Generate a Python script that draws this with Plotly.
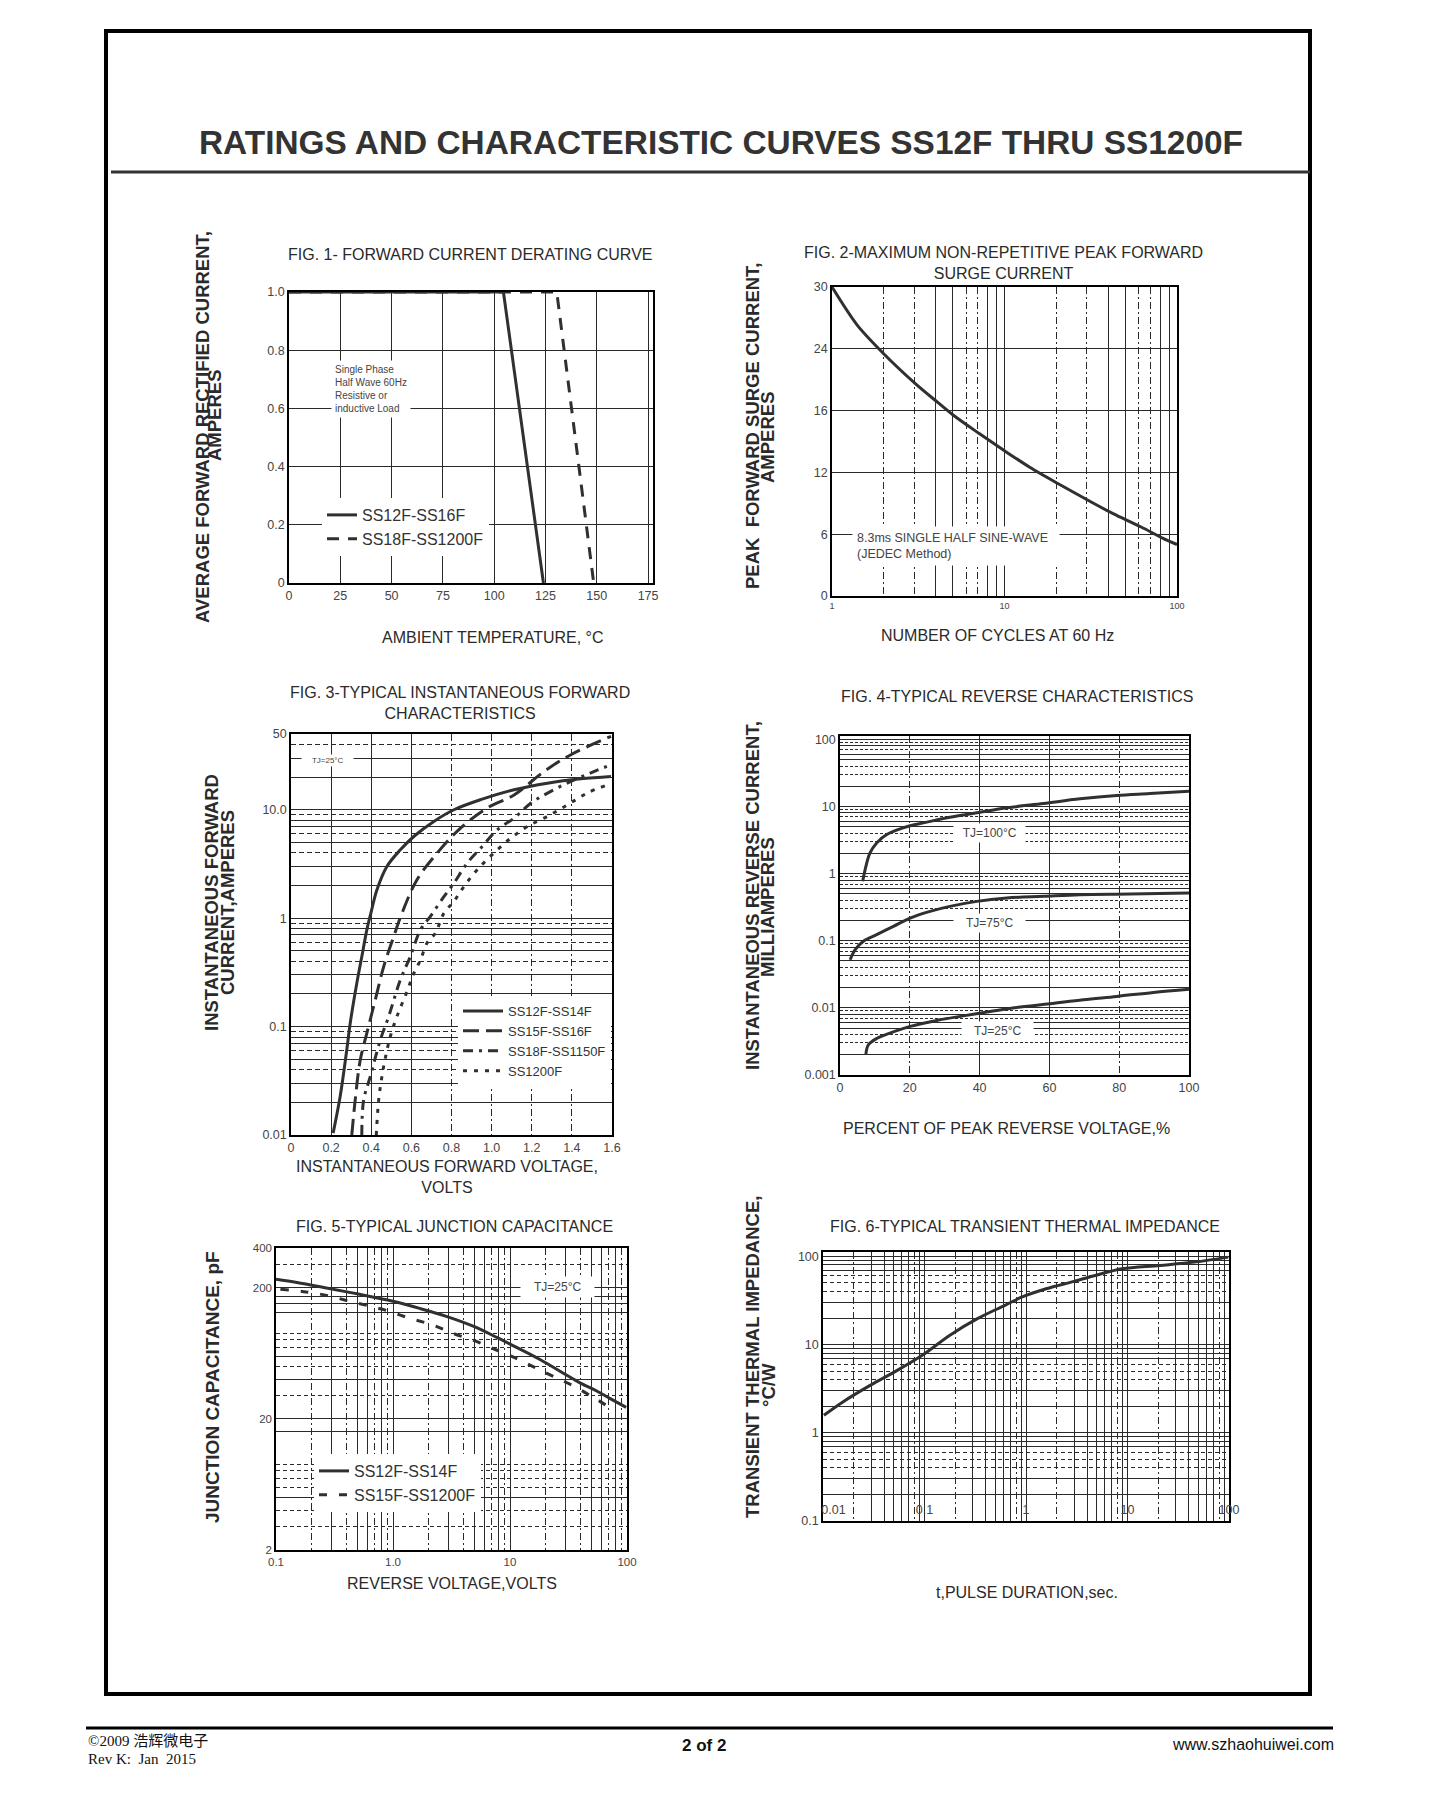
import plotly.graph_objects as go

W, H = 1448, 1809

# ---------------- DATA ----------------
# Fig 1 - forward current derating
f1_temp_a = [0, 104.5, 124]
f1_amp_a = [1.0, 1.0, 0.0]
f1_temp_b = [0, 130.5, 148.5]
f1_amp_b = [1.0, 1.0, 0.0]
f1_xticks = [0, 25, 50, 75, 100, 125, 150, 175]
f1_yticks = [0, 0.2, 0.4, 0.6, 0.8, 1.0]
f1_ytext = ["0", "0.2", "0.4", "0.6", "0.8", "1.0"]

# Fig 2 - surge current
f2_cycles = [1, 1.4, 2.0, 3.1, 4.1, 5.1, 7.1, 10, 14, 20.5, 32, 42.6, 62, 83, 100]
f2_amps = [30.0, 26.3, 23.5, 20.5, 18.8, 17.5, 15.8, 14.1, 12.5, 10.9, 9.1, 8.0, 6.7, 5.6, 5.0]
f2_yticks = [0, 6, 12, 18, 24, 30]
f2_ytext = ["0", "6", "12", "16", "24", "30"]

# Fig 3 - forward characteristics
f3_v1 = [0.21, 0.245, 0.278, 0.295, 0.328, 0.353, 0.378, 0.398, 0.428, 0.478, 0.545, 0.612, 0.712, 0.812, 0.945, 1.112, 1.278, 1.445, 1.595]
f3_i1 = [0.0104, 0.0226, 0.061, 0.107, 0.251, 0.443, 0.78, 1.11, 1.82, 3.0, 4.27, 5.67, 7.8, 10, 12.4, 15.3, 17.6, 19.3, 20.3]
f3_v2 = [0.303, 0.32, 0.345, 0.378, 0.42, 0.462, 0.512, 0.553, 0.628, 0.728, 0.845, 0.978, 1.112, 1.262, 1.395, 1.595]
f3_i2 = [0.01, 0.021, 0.049, 0.087, 0.176, 0.358, 0.676, 1.11, 2.26, 3.98, 6.77, 10.4, 13.7, 22.6, 32.2, 47.5]
f3_v3 = [0.353, 0.362, 0.395, 0.445, 0.487, 0.545, 0.595, 0.645, 0.695, 0.762, 0.812, 0.878, 0.953, 1.028, 1.112, 1.195, 1.295, 1.412, 1.512, 1.595]
f3_i3 = [0.01, 0.021, 0.0345, 0.075, 0.124, 0.27, 0.443, 0.78, 1.04, 1.58, 2.1, 3.22, 4.59, 6.54, 8.37, 11.5, 14.8, 18.9, 22.6, 26]
f3_v4 = [0.425, 0.437, 0.453, 0.47, 0.495, 0.528, 0.578, 0.612, 0.645, 0.678, 0.72, 0.762, 0.812, 0.862, 0.928, 1.012, 1.095, 1.178, 1.278, 1.378, 1.478, 1.578]
f3_i4 = [0.01, 0.021, 0.0345, 0.051, 0.081, 0.124, 0.21, 0.31, 0.41, 0.59, 0.73, 1.11, 1.43, 1.96, 2.8, 4.0, 5.47, 7.0, 8.7, 11.1, 14.3, 17.0]
f3_names = ["SS12F-SS14F", "SS15F-SS16F", "SS18F-SS1150F", "SS1200F"]
f3_xticks = [0, 0.2, 0.4, 0.6, 0.8, 1.0, 1.2, 1.4, 1.6]
f3_xtext = ["0", "0.2", "0.4", "0.6", "0.8", "1.0", "1.2", "1.4", "1.6"]
f3_yticks = [0.01, 0.1, 1, 10, 50]
f3_ytext = ["0.01", "0.1", "1", "10.0", "50"]

# Fig 4 - reverse characteristics
f4_p100 = [6.5, 7.2, 8.6, 10.5, 13.4, 18.1, 23.9, 31.5, 39.2, 47.8, 58.3, 68.8, 79.3, 88.8, 100]
f4_i100 = [0.77, 1.15, 2.03, 2.87, 3.82, 4.81, 5.7, 6.93, 8.04, 9.55, 11.1, 13.0, 14.6, 15.6, 16.9]
f4_p75 = [2.9, 4.3, 6.7, 10.5, 15.3, 20.1, 25.8, 31.5, 39.2, 47.8, 58.3, 68.8, 83.1, 100]
f4_i75 = [0.052, 0.073, 0.098, 0.123, 0.164, 0.218, 0.274, 0.325, 0.386, 0.433, 0.459, 0.486, 0.497, 0.514]
f4_p25 = [7.4, 8.1, 10.5, 14.3, 20.1, 27.7, 35.3, 43.0, 50.6, 60.2, 69.7, 79.3, 89.8, 100]
f4_i25 = [0.0020, 0.0028, 0.0035, 0.0042, 0.0053, 0.0065, 0.0076, 0.0088, 0.0101, 0.0115, 0.0132, 0.0148, 0.017, 0.019]
f4_xticks = [0, 20, 40, 60, 80, 100]
f4_yticks = [0.001, 0.01, 0.1, 1, 10, 100]
f4_ytext = ["0.001", "0.01", "0.1", "1", "10", "100"]

# Fig 5 - junction capacitance
f5_v1 = [0.1, 0.151, 0.256, 0.493, 1.0, 1.72, 2.9, 4.9, 7.8, 10.7, 18.2, 28.8, 40, 55.6, 71.9, 98.4]
f5_c1 = [231, 218, 200, 179, 157, 138, 120, 101, 82.9, 71.9, 56.3, 44.3, 37.4, 32.4, 28.5, 24.4]
f5_v2 = [0.109, 0.172, 0.264, 0.404, 0.6, 0.92, 1.41, 2.16, 3.2, 4.9, 7.3, 10.7, 15.9, 23.7, 35.3, 52.3, 74.5]
f5_c2 = [194, 186, 175, 159, 146, 132, 116, 104, 90, 79, 68, 59, 49.7, 41.9, 35.3, 28.9, 23.7]
f5_xticks = [0.1, 1, 10, 100]
f5_xtext = ["0.1", "1.0", "10", "100"]
f5_yticks = [2, 20, 200, 400]

# Fig 6 - transient thermal impedance
f6_t = [0.0102, 0.0157, 0.0294, 0.0508, 0.095, 0.178, 0.332, 0.62, 0.918, 1.58, 2.97, 5.54, 8.86, 20.9, 45.7, 98.4]
f6_z = [1.58, 2.24, 3.47, 4.91, 7.57, 12.8, 19.7, 27.9, 34.7, 43, 52.1, 63.6, 72.5, 79, 86.2, 98.2]
f6_xticks = [0.01, 0.1, 1, 10, 100]
f6_xtext = ["&nbsp;&nbsp;&nbsp;&nbsp;&nbsp;&nbsp;0.01", "0.1", "1", "10", "100"]
f6_yticks = [0.1, 1, 10, 100]
f6_ytext = ["0.1", "1", "10", "100"]

# ---------------- HELPERS ----------------
FONT = "Liberation Sans, Arial, sans-serif"
INK = "#2a2a2a"


def PX(x):
    return x / W


def PY(y):
    return 1 - y / H


def log_grid(lo_exp, hi_exp, mults=(2, 3, 4, 5, 6, 7, 8, 9)):
    vals = []
    for e in range(lo_exp, hi_exp):
        for m in mults:
            vals.append(m * 10 ** e)
    return vals


def axis(dom, **kw):
    d = dict(domain=dom, showline=True, mirror=True, linecolor="black", linewidth=1.5,
             ticks="", showgrid=True, gridcolor=INK, gridwidth=1, zeroline=False, automargin=False,
             tickfont=dict(family=FONT, size=12.5, color="#444"), fixedrange=True)
    d.update(kw)
    return d


def xd(a, b):
    return [PX(a), PX(b)]


def yd(top, bot):
    return [PY(bot), PY(top)]


fig = go.Figure()

LW = 3
LC = "#303030"

# Fig 1
fig.add_trace(go.Scatter(x=f1_temp_a, y=f1_amp_a, mode="lines", name="SS12F-SS16F",
                         line=dict(color=LC, width=LW), xaxis="x", yaxis="y", legend="legend"))
fig.add_trace(go.Scatter(x=f1_temp_b, y=f1_amp_b, mode="lines", name="SS18F-SS1200F",
                         line=dict(color=LC, width=LW, dash="12px,9px"), xaxis="x", yaxis="y", legend="legend"))
# Fig 2
fig.add_trace(go.Scatter(x=f2_cycles, y=f2_amps, mode="lines", line=dict(color=LC, width=LW, shape="spline", smoothing=0.8),
                         showlegend=False, xaxis="x2", yaxis="y2"))
# Fig 3
f3_dash = ["solid", "16px,7px", "10px,6px,3px,6px", "4px,7px"]
for v, i, n, dsh in zip([f3_v1, f3_v2, f3_v3, f3_v4], [f3_i1, f3_i2, f3_i3, f3_i4], f3_names, f3_dash):
    fig.add_trace(go.Scatter(x=v, y=i, mode="lines", name=n, line=dict(color=LC, width=LW, dash=dsh, shape="spline"),
                             xaxis="x3", yaxis="y3", legend="legend2"))
# Fig 4
for p, i in [(f4_p100, f4_i100), (f4_p75, f4_i75), (f4_p25, f4_i25)]:
    fig.add_trace(go.Scatter(x=p, y=i, mode="lines", line=dict(color=LC, width=LW, shape="spline"),
                             showlegend=False, xaxis="x4", yaxis="y4"))
# Fig 5
fig.add_trace(go.Scatter(x=f5_v1, y=f5_c1, mode="lines", name="SS12F-SS14F",
                         line=dict(color=LC, width=LW, shape="spline"), xaxis="x5", yaxis="y5", legend="legend3"))
fig.add_trace(go.Scatter(x=f5_v2, y=f5_c2, mode="lines", name="SS15F-SS1200F",
                         line=dict(color=LC, width=LW, dash="8px,12px", shape="spline"), xaxis="x5", yaxis="y5", legend="legend3"))
# Fig 6
fig.add_trace(go.Scatter(x=f6_t, y=f6_z, mode="lines", line=dict(color=LC, width=LW, shape="spline"),
                         showlegend=False, xaxis="x6", yaxis="y6"))


def minor_grid(vals, dash="5px,3px"):
    return dict(tickmode="array", tickvals=vals, showgrid=True, gridcolor=INK,
                gridwidth=1, griddash=dash, ticks="")


layout = dict(
    width=W, height=H, margin=dict(l=0, r=0, t=0, b=0, pad=0, autoexpand=False),
    paper_bgcolor="white", plot_bgcolor="white",
    font=dict(family=FONT, color=INK),
    # Fig 1
    xaxis=axis(xd(289, 653), anchor="y", range=[0, 177.4], tickmode="array", tickvals=f1_xticks),
    yaxis=axis(yd(292, 583), anchor="x", range=[0, 1.0], tickmode="array", tickvals=f1_yticks, ticktext=f1_ytext),
    # Fig 2
    xaxis2=axis(xd(832, 1177), anchor="y2", type="log", range=[0, 2], tickmode="array", tickvals=[1, 10, 100],
                tickfont=dict(family=FONT, size=9, color="#444"), minor=minor_grid(log_grid(0, 2), "7px,3px,2px,3px")),
    yaxis2=axis(yd(287, 596), anchor="x2", range=[0, 30], tickmode="array", tickvals=f2_yticks, ticktext=f2_ytext),
    # Fig 3
    xaxis3=axis(xd(291, 612), anchor="y3", range=[0, 1.6], tickmode="array", tickvals=f3_xticks, ticktext=f3_xtext,
                griddash="7px,3px,2px,3px"),
    yaxis3=axis(yd(734, 1135), anchor="x3", type="log", range=[-2, 1.69897], tickmode="array",
                tickvals=f3_yticks, ticktext=f3_ytext, minor=minor_grid(log_grid(-2, 2))),
    # Fig 4
    xaxis4=axis(xd(840, 1189), anchor="y4", range=[0, 100], tickmode="array", tickvals=f4_xticks,
                griddash="7px,3px,2px,3px"),
    yaxis4=axis(yd(736, 1075), anchor="x4", type="log", range=[-3, 2.05], tickmode="array",
                tickvals=f4_yticks, ticktext=f4_ytext, minor=minor_grid(log_grid(-3, 2), "3px,2px")),
    # Fig 5
    xaxis5=axis(xd(276, 627), anchor="y5", type="log", range=[-1, 2], tickmode="array",
                tickvals=f5_xticks, ticktext=f5_xtext, tickfont=dict(family=FONT, size=11.5, color="#444"),
                minor=minor_grid(log_grid(-1, 2), "7px,3px,2px,3px")),
    yaxis5=axis(yd(1248, 1550), anchor="x5", type="log", range=[0.30103, 2.60206], tickmode="array",
                tickvals=f5_yticks, tickfont=dict(family=FONT, size=11.5, color="#444"),
                minor=minor_grid([3, 4, 5, 6, 7, 8, 9, 30, 40, 50, 60, 70, 80, 90, 300], "4px,3px")),
    # Fig 6
    xaxis6=axis(xd(823, 1229), anchor="y6", type="log", range=[-2, 2], tickmode="array",
                tickvals=f6_xticks, ticktext=f6_xtext, ticklabelstandoff=-24,
                minor=minor_grid(log_grid(-2, 2), "7px,3px,2px,3px")),
    yaxis6=axis(yd(1252, 1521), anchor="x6", type="log", range=[-1, 2.05], tickmode="array",
                tickvals=f6_yticks, ticktext=f6_ytext, minor=minor_grid(log_grid(-1, 2), "4px,3px")),
    legend=dict(x=PX(322), y=PY(498), xanchor="left", yanchor="top", bgcolor="white", borderwidth=0,
                font=dict(family=FONT, size=16, color="#333"), itemwidth=30, tracegroupgap=0),
    legend2=dict(x=PX(458), y=PY(996), xanchor="left", yanchor="top", bgcolor="white", borderwidth=0,
                 font=dict(family=FONT, size=13, color="#333"), itemwidth=40, tracegroupgap=0),
    legend3=dict(x=PX(314), y=PY(1454), xanchor="left", yanchor="top", bgcolor="white", borderwidth=0,
                 font=dict(family=FONT, size=16, color="#333"), itemwidth=30, tracegroupgap=0),
)

# extra solid grid lines (the datasheet mixes solid and dashed rulings) via overlaid axes
ov_n = [6]


def solid_grid(base_x, base_y, which, vals, **kw):
    ov_n[0] += 1
    n = ov_n[0]
    spec = dict(tickmode="array", tickvals=vals, showgrid=True, gridcolor=INK, gridwidth=1,
                showticklabels=False, ticks="", showline=False, zeroline=False, fixedrange=True, automargin=False)
    spec.update(kw)
    if which == "x":
        spec.update(overlaying=base_x, anchor=base_y)
        layout["xaxis%d" % n] = spec
        fig.add_trace(go.Scatter(x=[], y=[], xaxis="x%d" % n, yaxis=base_y, showlegend=False, hoverinfo="skip"))
    else:
        spec.update(overlaying=base_y, anchor=base_x)
        layout["yaxis%d" % n] = spec
        fig.add_trace(go.Scatter(x=[], y=[], xaxis=base_x, yaxis="y%d" % n, showlegend=False, hoverinfo="skip"))


solid_grid("x2", "y2", "x", log_grid(0, 2, (4, 5, 8, 9)), type="log", range=[0, 2])
solid_grid("x3", "y3", "x", [0.2, 0.4, 0.6], range=[0, 1.6])
solid_grid("x3", "y3", "y", log_grid(-2, 2, (2, 3, 5, 7, 8)), type="log", range=[-2, 1.69897])
solid_grid("x4", "y4", "x", [40, 60], range=[0, 100])
solid_grid("x4", "y4", "y", log_grid(-3, 2, (2, 5, 6, 8)), type="log", range=[-3, 2.05])
solid_grid("x5", "y5", "x", log_grid(-1, 2, (3, 5, 6, 8)), type="log", range=[-1, 2])
solid_grid("x5", "y5", "y", [5, 16, 40, 60, 130, 150, 170], type="log", range=[0.30103, 2.60206])
solid_grid("x6", "y6", "x", log_grid(-2, 2, (3, 4, 5, 6, 7, 9)), type="log", range=[-2, 2])
solid_grid("x6", "y6", "y", log_grid(-1, 2, (2, 3, 7, 8, 9)), type="log", range=[-1, 2.05])

fig.update_layout(**layout)

ann = []


def text(x, y, s, size=16, bold=False, angle=0, xanchor="center", color=INK, family=FONT, bg=None, pad=1, align="center"):
    d = dict(x=PX(x), y=PY(y), xref="paper", yref="paper", text=("<b>%s</b>" % s) if bold else s,
             showarrow=False, xanchor=xanchor, yanchor="middle", textangle=angle, align=align,
             font=dict(family=family, size=size, color=color))
    if bg:
        d.update(bgcolor=bg, borderpad=pad)
    ann.append(d)


YT = 18.5  # y-axis title size

# Header
text(721, 143, "RATINGS AND CHARACTERISTIC CURVES SS12F THRU SS1200F", size=33.4, bold=True, color="#333")

# Fig 1 texts
text(470, 254, "FIG. 1- FORWARD CURRENT DERATING CURVE")
text(493, 637, "AMBIENT TEMPERATURE, °C")
text(202, 427, "AVERAGE FORWARD RECTIFIED CURRENT,", YT, bold=True, angle=-90)
text(215, 415, "AMPERES", YT, bold=True, angle=-90)
text(331, 389, "Single Phase<br>Half Wave 60Hz<br>Resistive or<br>inductive Load", 10, xanchor="left",
     bg="white", pad=3, align="left", color="#444")

# Fig 2 texts
text(1003, 263, "FIG. 2-MAXIMUM NON-REPETITIVE PEAK FORWARD<br>SURGE CURRENT")
text(997, 636, "NUMBER OF CYCLES AT 60 Hz")
text(752, 426, "PEAK  FORWARD SURGE CURRENT,", YT, bold=True, angle=-90)
text(767, 437, "AMPERES", YT, bold=True, angle=-90)
text(852, 546, "8.3ms SINGLE HALF SINE-WAVE&nbsp;&nbsp;<br>(JEDEC Method)", 12.5, xanchor="left",
     bg="white", pad=4, align="left", color="#444")

# Fig 3 texts
text(460, 703, "FIG. 3-TYPICAL INSTANTANEOUS FORWARD<br>CHARACTERISTICS")
text(447, 1177, "INSTANTANEOUS FORWARD VOLTAGE,<br>VOLTS")
text(212, 902, "INSTANTANEOUS FORWARD", YT, bold=True, angle=-90)
text(227, 903, "CURRENT,AMPERES", YT, bold=True, angle=-90)
text(327, 760, "&nbsp;&nbsp;&nbsp;&nbsp;TJ=25°C&nbsp;&nbsp;&nbsp;&nbsp;", 8, bg="white", pad=1, color="#444")

# Fig 4 texts
text(1017, 696, "FIG. 4-TYPICAL REVERSE CHARACTERISTICS")
text(1006, 1128, "PERCENT OF PEAK REVERSE VOLTAGE,%")
text(753, 896, "INSTANTANEOUS REVERSE CURRENT,", YT, bold=True, angle=-90)
text(767, 907, "MILLIAMPERES", YT, bold=True, angle=-90)
text(989, 833, "&nbsp;&nbsp;TJ=100°C&nbsp;&nbsp;", 12, bg="white", pad=2, color="#444")
text(989, 923, "&nbsp;&nbsp;&nbsp;TJ=75°C&nbsp;&nbsp;&nbsp;", 12, bg="white", pad=2, color="#444")
text(997, 1031, "&nbsp;&nbsp;&nbsp;TJ=25°C&nbsp;&nbsp;&nbsp;", 12, bg="white", pad=2, color="#444")

# Fig 5 texts
text(454, 1226, "FIG. 5-TYPICAL JUNCTION CAPACITANCE")
text(452, 1583, "REVERSE VOLTAGE,VOLTS")
text(212, 1387, "JUNCTION CAPACITANCE, pF", 19, bold=True, angle=-90)
text(557, 1287, "&nbsp;&nbsp;&nbsp;TJ=25°C&nbsp;&nbsp;&nbsp;", 12, bg="white", pad=3, color="#444")

# Fig 6 texts
text(1025, 1226, "FIG. 6-TYPICAL TRANSIENT THERMAL IMPEDANCE")
text(1027, 1592, "t,PULSE DURATION,sec.")
text(752, 1357, "TRANSIENT THERMAL IMPEDANCE,", YT, bold=True, angle=-90)
text(768, 1385, "°C/W", YT, bold=True, angle=-90)

# Footer
SERIF = "Liberation Serif, Times New Roman, Noto Sans CJK SC, serif"
text(86, 1741, "©2009 浩辉微电子", 15, xanchor="left", family=SERIF, color="#111")
text(86, 1759, "Rev K:  Jan  2015", 15, xanchor="left", family=SERIF, color="#111")
text(704, 1745, "2 of 2", 17, bold=True, color="#111")
text(1336, 1744, "www.szhaohuiwei.com", 16, xanchor="right", color="#111")

fig.update_layout(annotations=ann)

shapes = [
    dict(type="rect", xref="paper", yref="paper", x0=PX(106), x1=PX(1310), y0=PY(1694), y1=PY(31),
         line=dict(color="black", width=4), fillcolor="rgba(0,0,0,0)", layer="below"),
    dict(type="line", xref="paper", yref="paper", x0=PX(111), x1=PX(1310), y0=PY(172), y1=PY(172),
         line=dict(color="#333", width=3)),
    dict(type="line", xref="paper", yref="paper", x0=PX(86), x1=PX(1333), y0=PY(1728), y1=PY(1728),
         line=dict(color="black", width=3)),
]
fig.update_layout(shapes=shapes)

fig.write_html("out.html", config={"displayModeBar": False},
               post_script="document.body.style.margin='0';document.body.style.overflow='hidden';")
